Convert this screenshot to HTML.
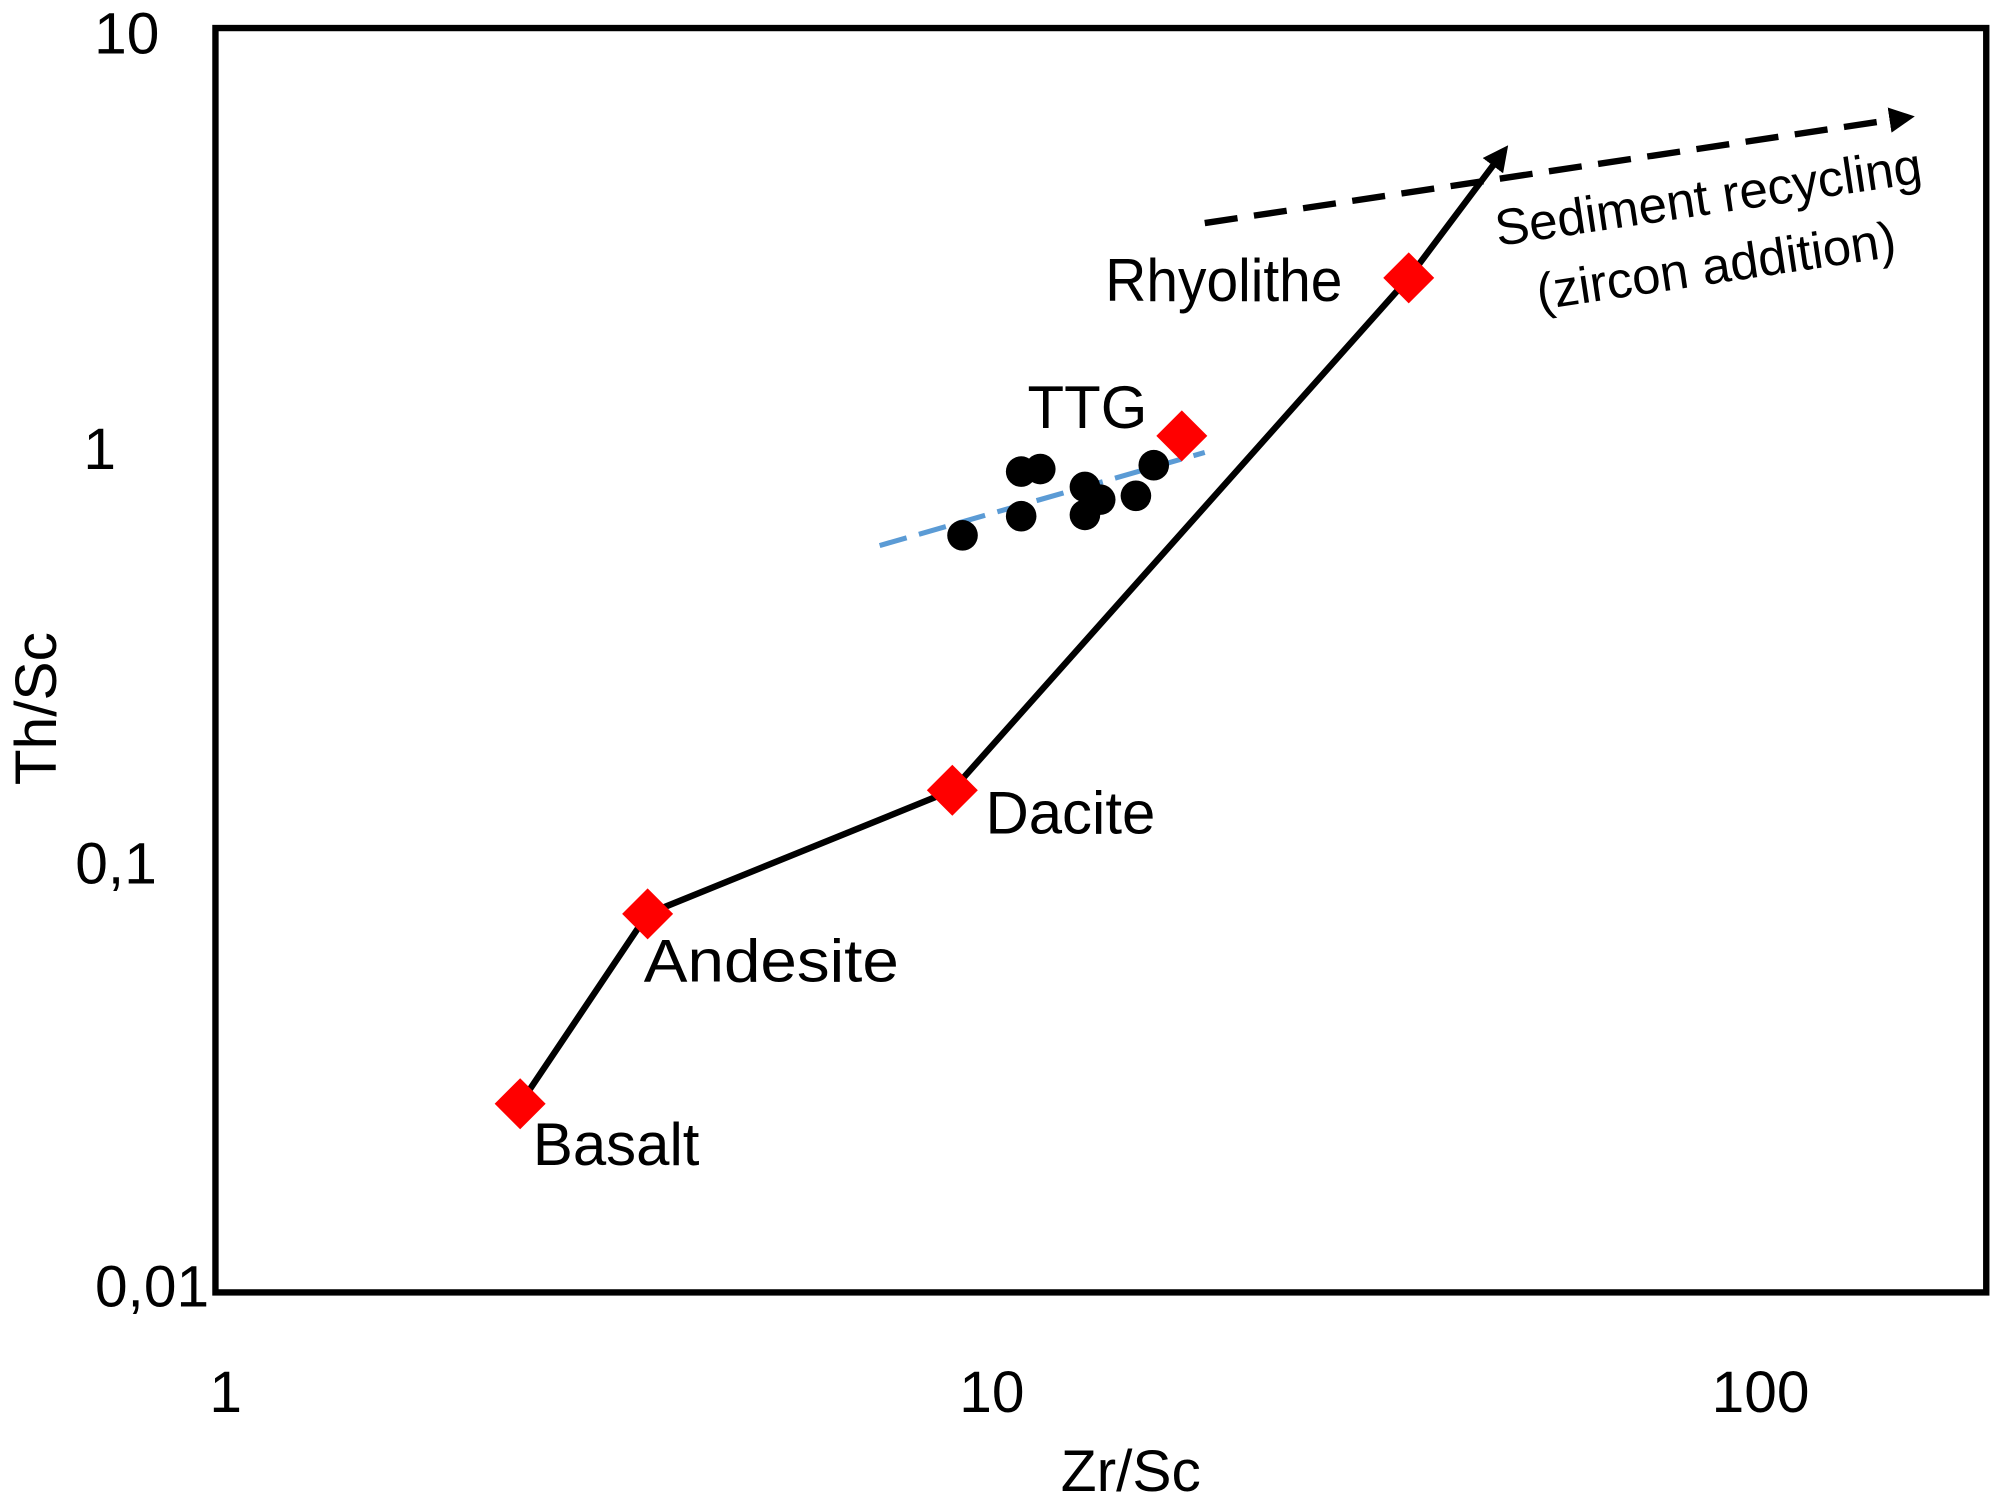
<!DOCTYPE html>
<html><head><style>html,body{margin:0;padding:0;background:#fff}svg{display:block}</style></head>
<body>
<svg width="1999" height="1504" viewBox="0 0 1568 1180" preserveAspectRatio="none" xmlns="http://www.w3.org/2000/svg" font-family="Liberation Sans, sans-serif">
<defs>
<marker id="ah" markerWidth="4" markerHeight="4" refX="3" refY="2" orient="auto" markerUnits="strokeWidth"><path d="M0,0 L4,2 L0,4 z" fill="#000"/></marker>
</defs>
<rect x="0" y="0" width="1568" height="1180" fill="#fff"/>
<rect x="169" y="22" width="1389" height="992" fill="none" stroke="#000" stroke-width="5"/>
<g font-size="46" fill="#000" text-anchor="end">
<text x="125" y="42">10</text>
<text x="91" y="368">1</text>
<text x="123" y="693">0,1</text>
<text x="164" y="1025">0,01</text>
</g>
<g font-size="46" fill="#000" text-anchor="middle">
<text x="177" y="1108">1</text>
<text x="778" y="1108">10</text>
<text x="1381" y="1108">100</text>
<text x="887" y="1170">Zr/Sc</text>
<text transform="translate(44,556) rotate(-90)">Th/Sc</text>
</g>
<line x1="690" y1="428" x2="945" y2="355" stroke="#5b9bd5" stroke-width="4" stroke-dasharray="22,10"/>
<polyline points="408,866 508,717 747,620 1105,218 1180,118" fill="none" stroke="#000" stroke-width="5" marker-end="url(#ah)"/>
<line x1="945" y1="175" x2="1497" y2="92" stroke="#000" stroke-width="5" stroke-dasharray="26,13" marker-end="url(#ah)"/>
<g fill="#000">
<circle cx="755" cy="420" r="12"/><circle cx="801" cy="370" r="12"/><circle cx="816" cy="368" r="12"/>
<circle cx="801" cy="405" r="12"/><circle cx="851" cy="382" r="12"/><circle cx="863" cy="392" r="12"/>
<circle cx="851" cy="404" r="12"/><circle cx="891" cy="389" r="12"/><circle cx="905" cy="365" r="12"/>
</g>
<g fill="#ff0000">
<path d="M408,846 L428,866 L408,886 L388,866z"/>
<path d="M508,697 L528,717 L508,737 L488,717z"/>
<path d="M747,600 L767,620 L747,640 L727,620z"/>
<path d="M927,322 L947,342 L927,362 L907,342z"/>
<path d="M1105,198 L1125,218 L1105,238 L1085,218z"/>
</g>
<g font-size="47" fill="#000">
<text x="867" y="236" textLength="186" lengthAdjust="spacingAndGlyphs">Rhyolithe</text>
<text x="806" y="336">TTG</text>
<text x="773" y="654">Dacite</text>
<text x="505" y="770" textLength="200" lengthAdjust="spacingAndGlyphs">Andesite</text>
<text x="418" y="914">Basalt</text>
</g>
<g font-size="40" fill="#000" text-anchor="middle">
<text transform="translate(1342,168) rotate(-8.5)">Sediment recycling</text>
<text transform="translate(1348,222) rotate(-8.5)">(zircon addition)</text>
</g>
</svg>
</body></html>
